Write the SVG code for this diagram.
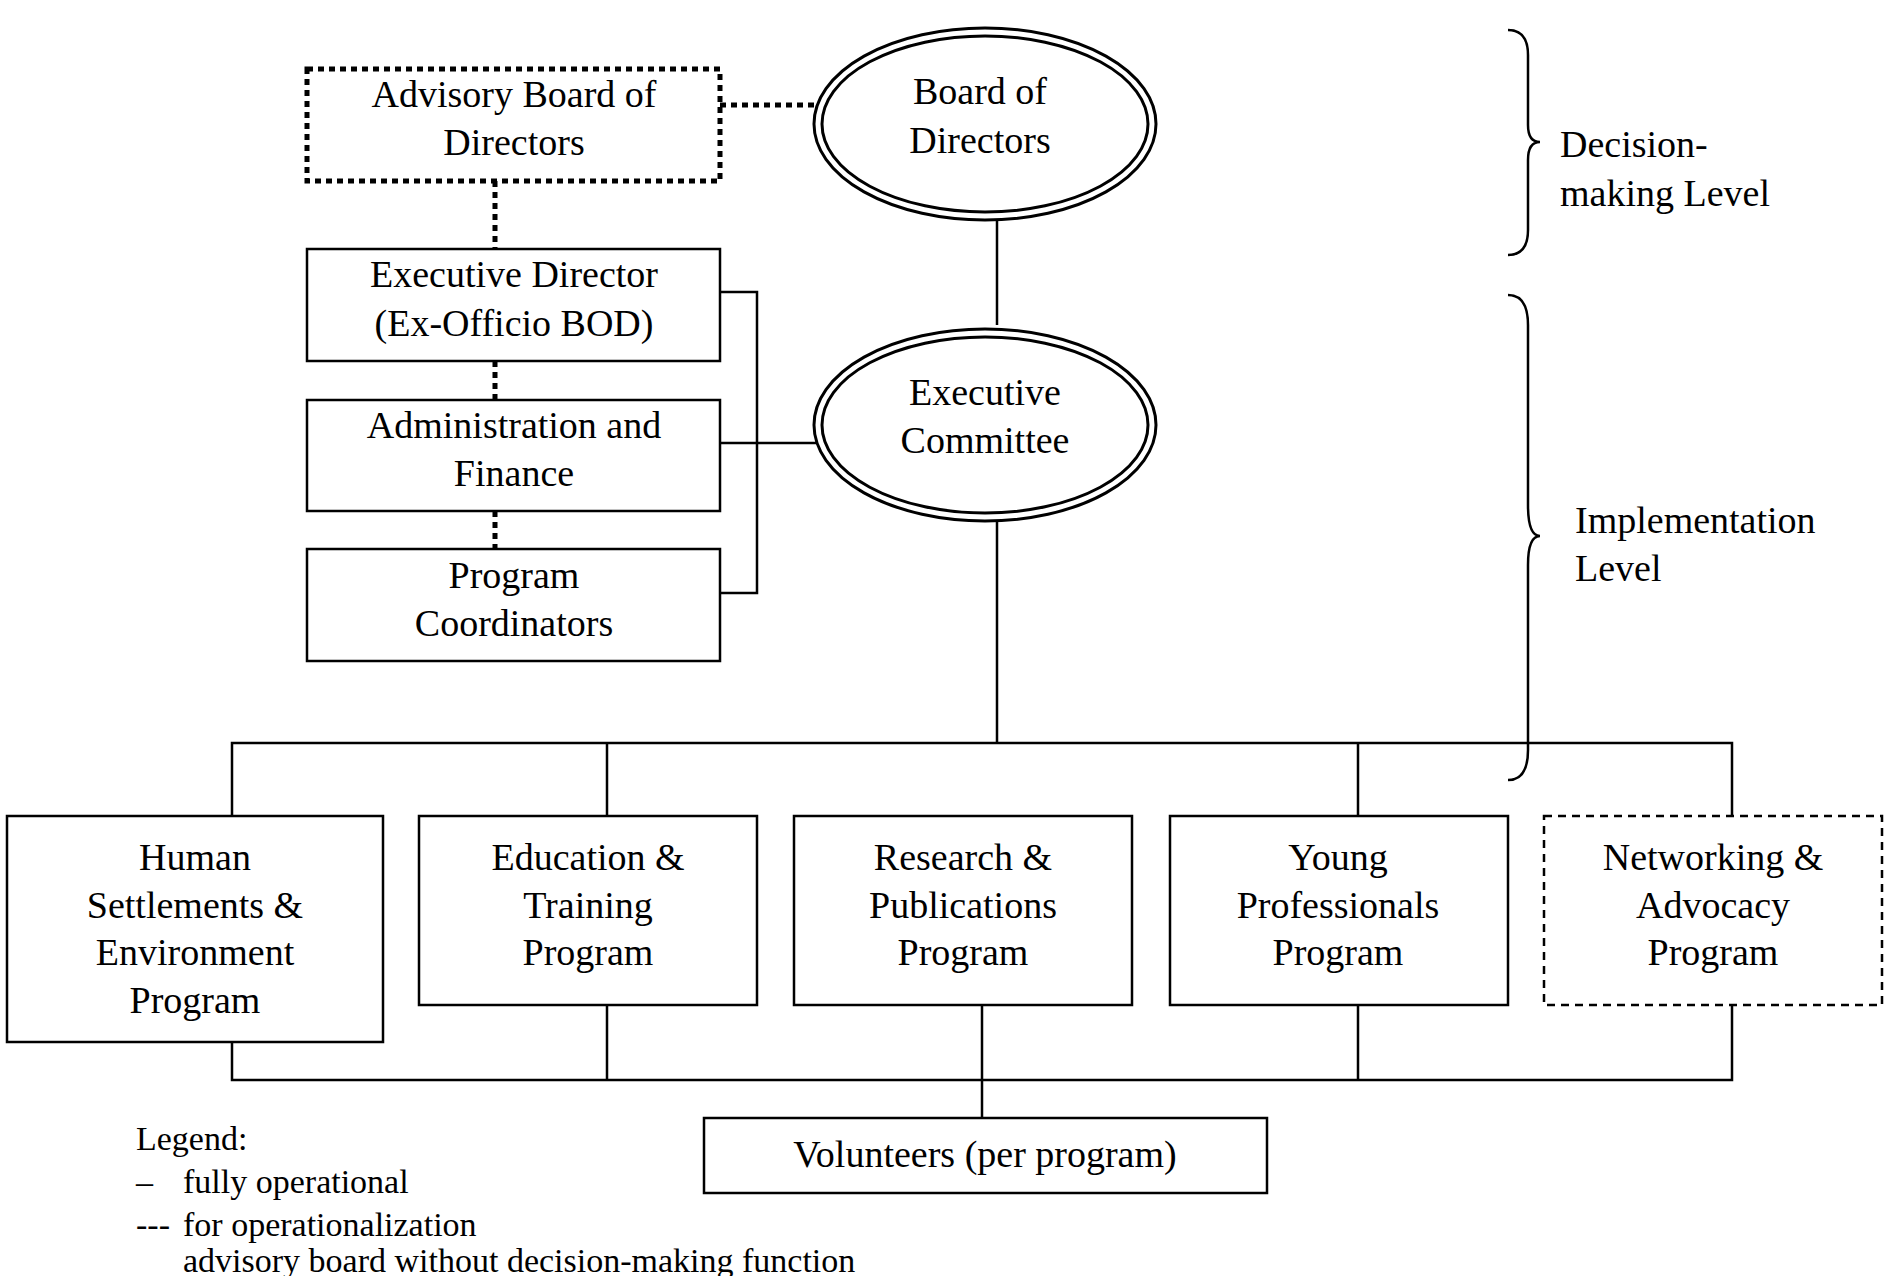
<svg xmlns="http://www.w3.org/2000/svg" width="1887" height="1276" viewBox="0 0 1887 1276">
<style>
text{font-family:"Liberation Serif",serif;font-size:38px;fill:#000}
.c{text-anchor:middle}
.b{fill:#fff;stroke:#000;stroke-width:2.5}
.dash{stroke-dasharray:8 6}
.dot{fill:none;stroke:#000;stroke-width:5;stroke-dasharray:6 5}
.ln{fill:none;stroke:#000;stroke-width:2.5}
.lg{font-size:34px}
</style>
<rect width="1887" height="1276" fill="#fff"/>
<g id="connectors">
<path class="dot" d="M720 105H818M495 181V249M495 361V400M495 511V549"/>
<path class="ln" d="M720 292H757V593H720M720 443H818M997 220V325M997 521V743M232 816V743H1732V816M607 743V816M1358 743V816M232 1042V1080H1732V1005M607 1005V1080M1358 1005V1080M982 1005V1118"/>
<path class="ln" d="M1508 30Q1528 30 1528 55V125Q1528 142 1540 142Q1528 142 1528 160V230Q1528 255 1508 255"/>
<path class="ln" d="M1508 295Q1528 295 1528 325V505Q1528 536 1540 536Q1528 536 1528 565V750Q1528 780 1508 780"/>
</g>
<g id="advisory"><rect x="307" y="69" width="413" height="112" fill="#fff" class="dot"/><text class="c" x="514" y="107">Advisory Board of</text><text class="c" x="514" y="155">Directors</text></g>
<g id="board"><ellipse cx="985" cy="124" rx="171" ry="96" fill="#fff" stroke="#000" stroke-width="3"/><ellipse cx="985" cy="124" rx="163" ry="88" fill="none" stroke="#000" stroke-width="3"/><text class="c" x="980" y="104">Board of</text><text class="c" x="980" y="153">Directors</text></g>
<g id="execdir"><rect class="b" x="307" y="249" width="413" height="112"/><text class="c" x="514" y="287">Executive Director</text><text class="c" x="514" y="336">(Ex-Officio BOD)</text></g>
<g id="admin"><rect class="b" x="307" y="400" width="413" height="111"/><text class="c" x="514" y="438">Administration and</text><text class="c" x="514" y="486">Finance</text></g>
<g id="progcoord"><rect class="b" x="307" y="549" width="413" height="112"/><text class="c" x="514" y="588">Program</text><text class="c" x="514" y="636">Coordinators</text></g>
<g id="execcom"><ellipse cx="985" cy="425" rx="171" ry="96" fill="#fff" stroke="#000" stroke-width="3"/><ellipse cx="985" cy="425" rx="163" ry="88" fill="none" stroke="#000" stroke-width="3"/><text class="c" x="985" y="405">Executive</text><text class="c" x="985" y="453">Committee</text></g>
<g id="human"><rect class="b" x="7" y="816" width="376" height="226"/><text class="c" x="195" y="870">Human</text><text class="c" x="195" y="918">Settlements &amp;</text><text class="c" x="195" y="965">Environment</text><text class="c" x="195" y="1013">Program</text></g>
<g id="education"><rect class="b" x="419" y="816" width="338" height="189"/><text class="c" x="588" y="870">Education &amp;</text><text class="c" x="588" y="918">Training</text><text class="c" x="588" y="965">Program</text></g>
<g id="research"><rect class="b" x="794" y="816" width="338" height="189"/><text class="c" x="963" y="870">Research &amp;</text><text class="c" x="963" y="918">Publications</text><text class="c" x="963" y="965">Program</text></g>
<g id="young"><rect class="b" x="1170" y="816" width="338" height="189"/><text class="c" x="1338" y="870">Young</text><text class="c" x="1338" y="918">Professionals</text><text class="c" x="1338" y="965">Program</text></g>
<g id="networking"><rect class="b dash" x="1544" y="816" width="338" height="189"/><text class="c" x="1713" y="870">Networking &amp;</text><text class="c" x="1713" y="918">Advocacy</text><text class="c" x="1713" y="965">Program</text></g>
<g id="volunteers"><rect class="b" x="704" y="1118" width="563" height="75"/><text class="c" x="985" y="1167">Volunteers (per program)</text></g>
<g id="levels"><text x="1560" y="157">Decision-</text><text x="1560" y="206">making Level</text><text x="1575" y="533">Implementation</text><text x="1575" y="581">Level</text></g>
<g id="legend"><text class="lg" x="136" y="1150">Legend:</text><text class="lg" x="136" y="1193">–</text><text class="lg" x="183" y="1193">fully operational</text><text class="lg" x="136" y="1236">---</text><text class="lg" x="183" y="1236">for operationalization</text><text class="lg" x="183" y="1272">advisory board without decision-making function</text></g>
</svg>
